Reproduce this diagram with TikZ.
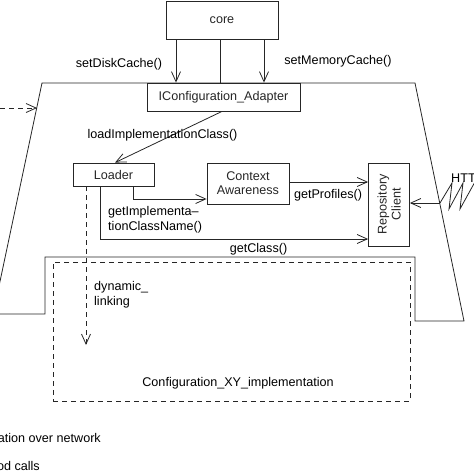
\documentclass[tikz,border=0pt]{standalone}
\usepackage{fontspec}
\setmainfont{Liberation Sans}
\usetikzlibrary{arrows.meta}
\begin{document}
\begin{tikzpicture}[x=1pt,y=-1pt,
  every node/.style={font=\fontsize{12.6}{15}\selectfont},
  ln/.style={line width=0.8pt, black!85},
  box/.style={draw, line width=0.8pt, black!85, inner sep=0pt, align=center},
  arr/.style={ln, -{Straight Barb[length=10pt,width=9pt]}},
  dsh/.style={dash pattern=on 5pt off 4pt},
  lbl/.style={inner sep=0pt, align=left}]
\useasboundingbox (0,0) rectangle (474,474);
\begin{scope}
\clip (0,0) rectangle (474,474);
% outline of the device
\draw[ln] (-5,305) -- (42,83) -- (415,83) -- (464,321) -- (415,321) -- (415,257) -- (45,257) -- (45,314) -- (-5,314);
% nodes
\node[box, minimum width=112pt, minimum height=38pt] (core) at (222,20) {core};
\node[box, fill=white, minimum width=153pt, minimum height=28pt] (adapter) at (223.5,97) {IConfiguration\_Adapter};
\node[box, minimum width=81pt, minimum height=23pt] (loader) at (113.5,174.5) {Loader};
\node[box, minimum width=82pt, minimum height=41pt, font=\fontsize{12.6}{14}\selectfont] (context) at (248,183.5) {Context\\Awareness};
\node[box, rotate=90, minimum width=83pt, minimum height=41pt, font=\fontsize{12.6}{14}\selectfont] (repo) at (389,204.5) {Repository\\Client};
\node[box, dsh, minimum width=357pt, minimum height=139pt] (impl) at (231.5,331.5) {};
% coordinates
\coordinate (lin) at (0,108);
\coordinate (lout) at (37,108);
\coordinate (http) at (440,203);
\coordinate (dynend) at (86,345);
% connectors
\draw[arr] ([xshift=-46pt]core.south) -- ([xshift=-46pt]core.south |- adapter.north);
\draw[ln] ([xshift=-2pt]core.south) -- ([xshift=-2pt]core.south |- adapter.north);
\draw[arr] ([xshift=42pt]core.south) -- ([xshift=42pt]core.south |- adapter.north);
\draw[arr] ([xshift=-1.5pt]adapter.south) -- ([xshift=1.5pt]loader.north);
\draw[arr] ([xshift=19.5pt]loader.south) |- ([yshift=-15.5pt]context.west);
\draw[arr] ([xshift=-13.5pt]loader.south) |- ([yshift=-34.5pt]repo.center -| repo.north);
\draw[arr] ([yshift=1.5pt]context.east) -- ([yshift=1.5pt]context.east -| repo.north);
\draw[arr] (http) -- (http -| repo.south);
\draw[ln] (http) -- (452,183) -- (449,209) -- (463,183) -- (460,209) -- (476,180);
\draw[arr, dsh] ([xshift=-27.5pt]loader.south) -- (dynend);
\draw[arr, dsh] (lin) -- (lout);
% labels
\node at (119,64) {setDiskCache()};
\node at (338,61) {setMemoryCache()};
\node at (162.5,135) {loadImplementationClass()};
\node[lbl, anchor=west] at (108,219.5) {getImplementa–\\tionClassName()};
\node at (328,195) {getProfiles()};
\node at (258.5,249) {getClass()};
\node[lbl, anchor=west] at (94,295) {dynamic\_\\linking};
\node at (238,383) {Configuration\_XY\_implementation};
\node[lbl, anchor=west] at (451,178) {HTT};
\node[lbl, anchor=east] at (101,438) {ation over network};
\node[lbl, anchor=east] at (40,466) {od calls};
\end{scope}
\end{tikzpicture}
\end{document}
